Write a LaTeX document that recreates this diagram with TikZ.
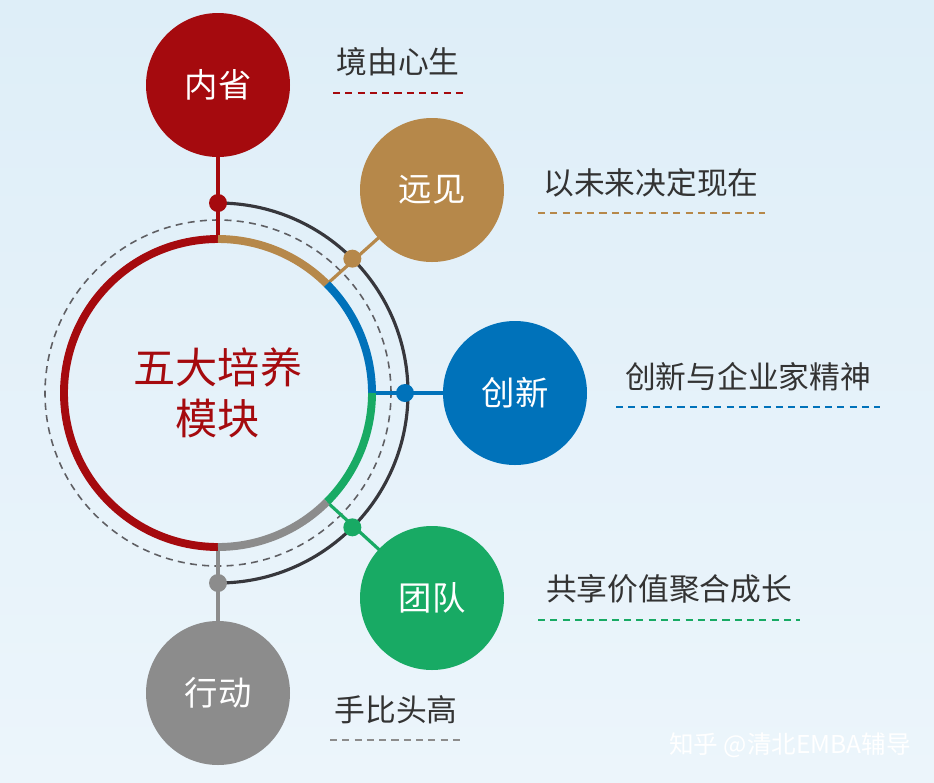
\documentclass[tikz,border=0pt]{standalone}
\usepackage{fontspec}
\usetikzlibrary{calc}
\newfontfamily\cjk{Noto Sans CJK SC}
\begin{document}
\begin{tikzpicture}[x=0.02cm,y=0.02cm,
  ball/.style={circle,minimum size=144*0.02cm,inner sep=0pt,text=white,font=\cjk\fontsize{19}{22}\selectfont},
  lab/.style={font=\cjk\fontsize{17.5}{21}\selectfont,text=black!80},
  dot/.style={circle,minimum size=18*0.02cm,inner sep=0pt},
  conn/.style={line width=1.8pt},
  ring/.style={line width=4.5pt},
  uline/.style={line width=1.2pt,dash pattern=on 4pt off 3pt}]
\definecolor{cred}{RGB}{165,10,14}
\definecolor{cgold}{RGB}{182,136,74}
\definecolor{cblue}{RGB}{0,114,186}
\definecolor{cgreen}{RGB}{24,170,100}
\definecolor{cgray}{RGB}{140,140,140}
\definecolor{cdark}{RGB}{55,55,60}
\shade[top color={rgb,255:red,222;green,238;blue,248},bottom color={rgb,255:red,236;green,245;blue,251}] (0,0) rectangle (934,-782);
\useasboundingbox (0,0) rectangle (934,-782);
\coordinate (c) at (218,-393);
\draw[cdark,line width=1.8pt] (218,-203) arc[start angle=90,end angle=-90,radius=190];
\draw[cdark!80,line width=0.9pt,dash pattern=on 4pt off 3pt] (c) circle[radius=173];
\coordinate (p1) at (218,-85);
\coordinate (p2) at (432,-190);
\coordinate (p3) at (515,-393);
\coordinate (p4) at (432,-598);
\coordinate (p5) at (218,-693);
\coordinate (a1) at (218,-239);
\coordinate (a2) at ($(c)+(45:154)$);
\coordinate (a3) at ($(c)+(0:154)$);
\coordinate (a4) at ($(c)+(-45:154)$);
\coordinate (a5) at (218,-547);
\draw[cred,conn] (p1) -- (a1);
\draw[cgray,conn] (p5) -- (a5);
\draw[cblue,conn] (p3) -- (a3);
\draw[cgold,conn] (p2) -- (a2);
\draw[cgreen,conn] (p4) -- (a4);
\draw[cred,ring] (a1) arc[start angle=90,end angle=270,radius=154];
\draw[cgold,ring] (a1) arc[start angle=90,end angle=45,radius=154];
\draw[cblue,ring] (a2) arc[start angle=45,end angle=0,radius=154];
\draw[cgreen,ring] (a3) arc[start angle=0,end angle=-45,radius=154];
\draw[cgray,ring] (a4) arc[start angle=-45,end angle=-90,radius=154];
\node[dot,fill=cred] (d1) at (218,-203) {};
\node[dot,fill=cgold] (d2) at ($(c)+(45:190)$) {};
\node[dot,fill=cblue] (d3) at (405,-393) {};
\node[dot,fill=cgreen] (d4) at ($(c)+(-45:190)$) {};
\node[dot,fill=cgray] (d5) at (218,-583) {};
\node[ball,fill=cred] (b1) at (p1) {内省};
\node[ball,fill=cgold] (b2) at (p2) {远见};
\node[ball,fill=cblue] (b3) at (p3) {创新};
\node[ball,fill=cgreen] (b4) at (p4) {团队};
\node[ball,fill=cgray] (b5) at (p5) {行动};
\node[font=\cjk\fontsize{24}{29}\selectfont,text=cred,align=center] (t) at (218,-393) {五大培养\\模块};
\node[lab] (l1) at (398,-62) {境由心生};
\draw[uline,cred] (333,-93) -- (463,-93);
\node[lab] (l2) at (651,-183) {以未来决定现在};
\draw[uline,cgold] (538,-213) -- (765,-213);
\node[lab] (l3) at (748,-377) {创新与企业家精神};
\draw[uline,cblue] (616,-407) -- (880,-407);
\node[lab] (l4) at (669,-589) {共享价值聚合成长};
\draw[uline,cgreen] (538,-620) -- (800,-620);
\node[lab] (l5) at (396,-710) {手比头高};
\draw[uline,cgray] (330,-740) -- (462,-740);
\node[font=\cjk\fontsize{14}{16}\selectfont,text=white] (w) at (790,-745) {知乎 @清北EMBA辅导};
\end{tikzpicture}
\end{document}
